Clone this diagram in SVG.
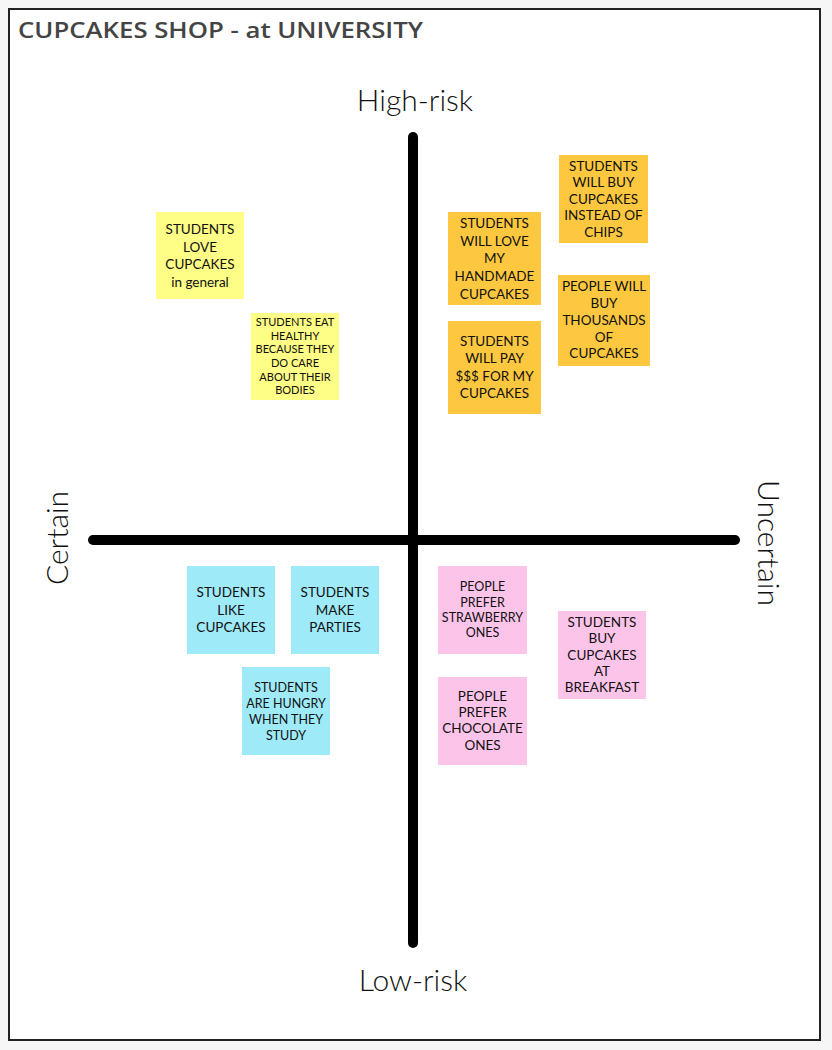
<svg xmlns="http://www.w3.org/2000/svg" width="832" height="1050" viewBox="0 0 832 1050">
<style>
.n{font-family:Lato,"Liberation Sans",sans-serif;font-size:13.5px;fill:#111;text-anchor:middle}
.s{font-size:11px}
.m{font-size:12.5px}
.ax{font-family:Lato,"Liberation Sans",sans-serif;font-size:30px;font-weight:300;fill:#111;text-anchor:middle}
.y{fill:#fefd86}.o{fill:#fdc83f}.b{fill:#9feaf9}.p{fill:#fdc4ea}
</style>
<rect width="832" height="1050" fill="#f6f6f6"/>
<rect x="9" y="9" width="811" height="1031" fill="#fff" stroke="#222" stroke-width="2"/>
<text x="18" y="38" font-family="'Open Sans',Lato,'Liberation Sans',sans-serif" font-size="21" font-weight="600" fill="#444" textLength="405" lengthAdjust="spacingAndGlyphs">CUPCAKES SHOP - at UNIVERSITY</text>
<g id="connectors" stroke="#000" stroke-width="10" stroke-linecap="round">
<line x1="413" y1="137" x2="413" y2="943"/>
<line x1="93" y1="540" x2="735" y2="540"/>
</g>
<g id="axis-labels">
<text class="ax" x="415" y="111">High-risk</text>
<text class="ax" x="413" y="991">Low-risk</text>
<text class="ax" transform="translate(68,538) rotate(-90)">Certain</text>
<text class="ax" transform="translate(758,543) rotate(90)">Uncertain</text>
</g>
<g id="n1"><rect class="y" x="156" y="212" width="88" height="87"/><text class="n" x="200"><tspan x="200" y="234">STUDENTS</tspan><tspan x="200" y="252">LOVE</tspan><tspan x="200" y="269">CUPCAKES</tspan><tspan x="200" y="287">in general</tspan></text></g>
<g id="n2"><rect class="y" x="251" y="313" width="88" height="87"/><text class="n s" x="295"><tspan x="295" y="326">STUDENTS EAT</tspan><tspan x="295" y="340">HEALTHY</tspan><tspan x="295" y="353">BECAUSE THEY</tspan><tspan x="295" y="367">DO CARE</tspan><tspan x="295" y="381">ABOUT THEIR</tspan><tspan x="295" y="394">BODIES</tspan></text></g>
<g id="n3"><rect class="o" x="448" y="212" width="93" height="93"/><text class="n"><tspan x="494.5" y="228">STUDENTS</tspan><tspan x="494.5" y="246">WILL LOVE</tspan><tspan x="494.5" y="263">MY</tspan><tspan x="494.5" y="281">HANDMADE</tspan><tspan x="494.5" y="299">CUPCAKES</tspan></text></g>
<g id="n4"><rect class="o" x="448" y="321" width="93" height="93"/><text class="n"><tspan x="494.5" y="346">STUDENTS</tspan><tspan x="494.5" y="363">WILL PAY</tspan><tspan x="494.5" y="381">$$$ FOR MY</tspan><tspan x="494.5" y="398">CUPCAKES</tspan></text></g>
<g id="n5"><rect class="o" x="559" y="155" width="89" height="88"/><text class="n"><tspan x="603.5" y="171">STUDENTS</tspan><tspan x="603.5" y="187">WILL BUY</tspan><tspan x="603.5" y="204">CUPCAKES</tspan><tspan x="603.5" y="220">INSTEAD OF</tspan><tspan x="603.5" y="237">CHIPS</tspan></text></g>
<g id="n6"><rect class="o" x="558" y="275" width="92" height="91"/><text class="n"><tspan x="604" y="291">PEOPLE WILL</tspan><tspan x="604" y="308">BUY</tspan><tspan x="604" y="325">THOUSANDS</tspan><tspan x="604" y="342">OF</tspan><tspan x="604" y="358">CUPCAKES</tspan></text></g>
<g id="n7"><rect class="b" x="187" y="566" width="88" height="88"/><text class="n"><tspan x="231" y="597">STUDENTS</tspan><tspan x="231" y="615">LIKE</tspan><tspan x="231" y="632">CUPCAKES</tspan></text></g>
<g id="n8"><rect class="b" x="291" y="566" width="88" height="88"/><text class="n"><tspan x="335" y="597">STUDENTS</tspan><tspan x="335" y="615">MAKE</tspan><tspan x="335" y="632">PARTIES</tspan></text></g>
<g id="n9"><rect class="b" x="242" y="667" width="88" height="88"/><text class="n m"><tspan x="286" y="692">STUDENTS</tspan><tspan x="286" y="708">ARE HUNGRY</tspan><tspan x="286" y="724">WHEN THEY</tspan><tspan x="286" y="740">STUDY</tspan></text></g>
<g id="n10"><rect class="p" x="438" y="566" width="89" height="88"/><text class="n m"><tspan x="482.5" y="591">PEOPLE</tspan><tspan x="482.5" y="607">PREFER</tspan><tspan x="482.5" y="622">STRAWBERRY</tspan><tspan x="482.5" y="637">ONES</tspan></text></g>
<g id="n11"><rect class="p" x="438" y="677" width="89" height="88"/><text class="n"><tspan x="482.5" y="701">PEOPLE</tspan><tspan x="482.5" y="717">PREFER</tspan><tspan x="482.5" y="733">CHOCOLATE</tspan><tspan x="482.5" y="750">ONES</tspan></text></g>
<g id="n12"><rect class="p" x="558" y="611" width="88" height="88"/><text class="n"><tspan x="602" y="627">STUDENTS</tspan><tspan x="602" y="643">BUY</tspan><tspan x="602" y="660">CUPCAKES</tspan><tspan x="602" y="676">AT</tspan><tspan x="602" y="692">BREAKFAST</tspan></text></g>
</svg>
